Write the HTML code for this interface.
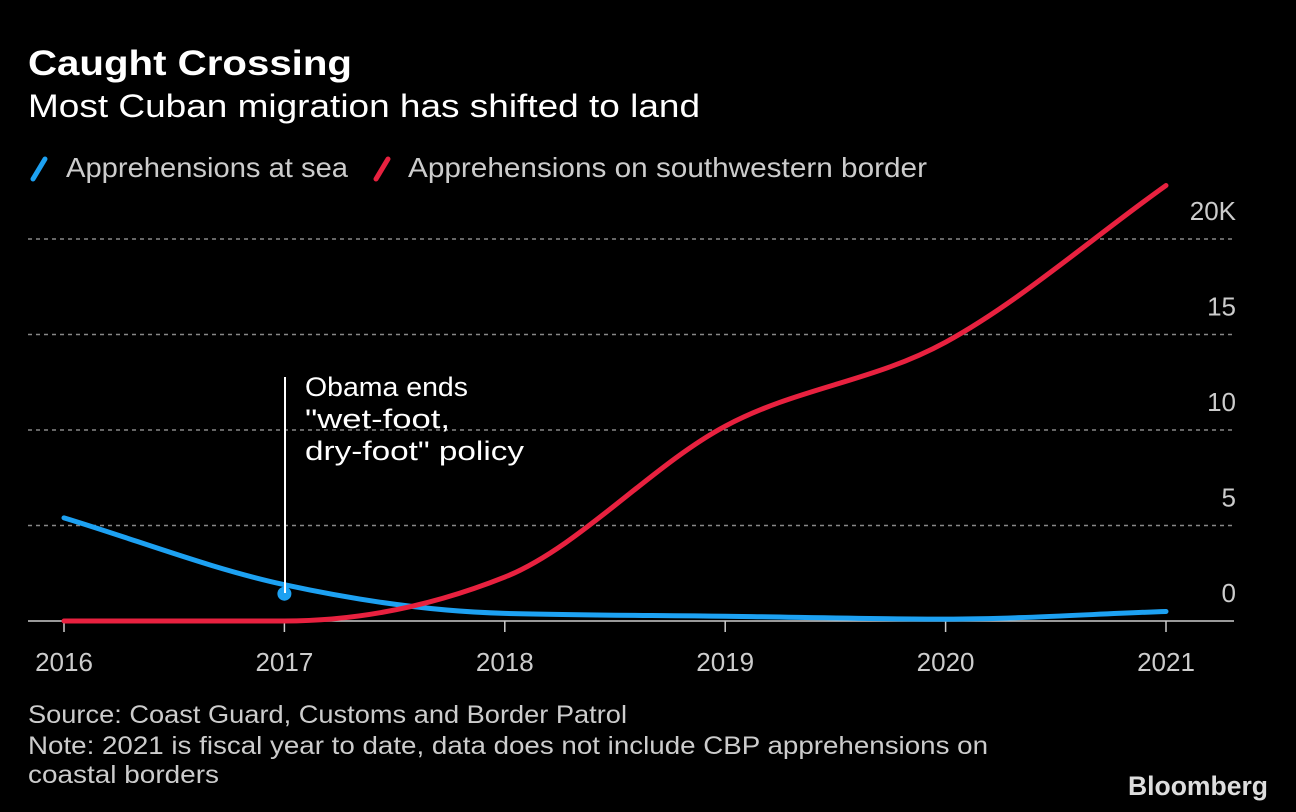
<!DOCTYPE html>
<html><head><meta charset="utf-8"><style>
html,body{margin:0;padding:0;background:#000;}
svg{display:block;}
text{font-family:"Liberation Sans",sans-serif;}
</style></head><body>
<svg id="chart" width="1296" height="812" viewBox="0 0 1296 812" xmlns="http://www.w3.org/2000/svg">
<rect width="1296" height="812" fill="#000"/>
<text x="28" y="75" fill="#fff" font-size="35" font-weight="bold" textLength="324" lengthAdjust="spacingAndGlyphs">Caught Crossing</text>
<text x="28" y="117" fill="#fff" font-size="32" textLength="672" lengthAdjust="spacingAndGlyphs">Most Cuban migration has shifted to land</text>
<g>
<line x1="33" y1="179" x2="45" y2="159" stroke="#1da1f2" stroke-width="5" stroke-linecap="round"/>
<text x="66" y="177" fill="#ccc" font-size="28" textLength="282" lengthAdjust="spacingAndGlyphs">Apprehensions at sea</text>
<line x1="376" y1="179" x2="388" y2="159" stroke="#e8213f" stroke-width="5" stroke-linecap="round"/>
<text x="408" y="177" fill="#ccc" font-size="28" textLength="519" lengthAdjust="spacingAndGlyphs">Apprehensions on southwestern border</text>
</g>
<g id="grid"></g>
<g id="xaxis"></g>
<g id="series"></g>
<g>
<line x1="285" y1="377" x2="285" y2="593" stroke="#fff" stroke-width="2"/>
<text id="ann" fill="#fff" font-size="27" font-family="DejaVu Sans Mono, monospace">
<tspan x="305" y="396" textLength="163" lengthAdjust="spacingAndGlyphs">Obama ends</tspan>
<tspan x="305" y="428" textLength="145" lengthAdjust="spacingAndGlyphs">"wet-foot,</tspan>
<tspan x="305" y="460" textLength="219" lengthAdjust="spacingAndGlyphs">dry-foot" policy</tspan>
</text>
</g>
<text fill="#ccc" font-size="25" font-family="Liberation Sans Narrow, Liberation Sans, sans-serif">
<tspan x="28" y="723" textLength="599" lengthAdjust="spacingAndGlyphs">Source: Coast Guard, Customs and Border Patrol</tspan>
<tspan x="28" y="754" textLength="960" lengthAdjust="spacingAndGlyphs">Note: 2021 is fiscal year to date, data does not include CBP apprehensions on</tspan>
<tspan x="28" y="783" textLength="191" lengthAdjust="spacingAndGlyphs">coastal borders</tspan>
</text>
<text x="1268" y="795" fill="#ddd" font-size="27" font-weight="bold" text-anchor="end" textLength="140" lengthAdjust="spacingAndGlyphs">Bloomberg</text>
</svg>
<script>
const years = [2016, 2017, 2018, 2019, 2020, 2021];
const seaValues = [5.4, 1.9, 0.4, 0.25, 0.1, 0.5];
const borderValues = [0, 0, 2.3, 10.2, 14.6, 22.8];
const yTicks = [0, 5, 10, 15, 20];
const yTickLabels = ["0", "5", "10", "15", "20K"];

const NS = "http://www.w3.org/2000/svg";
const x = v => 64 + (v - 2016) * 220.4;
const y = v => 621 - v * 19.1;

function mk(tag, attrs, parent) {
  const e = document.createElementNS(NS, tag);
  for (const k in attrs) e.setAttribute(k, attrs[k]);
  parent.appendChild(e);
  return e;
}
const grid = document.getElementById('grid');
yTicks.forEach((t, i) => {
  if (t > 0) {
    const l = mk('line', {x1: 28, x2: 1234, y1: y(t), y2: y(t), stroke: '#888', 'stroke-width': 1.5, 'stroke-dasharray': '4,4'}, grid);
    
    
  }
  const tx = mk('text', {x: 1236, y: y(t) - 19, fill: '#ccc', 'font-size': 26, 'text-anchor': 'end'}, grid);
  
  
  tx.textContent = yTickLabels[i];
});
const xa = document.getElementById('xaxis');
const base = mk('line', {x1: 28, x2: 1234, y1: 621, y2: 621, stroke: '#ccc', 'stroke-width': 1.5}, xa);


years.forEach(yr => {
  const tk = mk('line', {x1: x(yr), x2: x(yr), y1: 621, y2: 632, stroke: '#ccc', 'stroke-width': 1.5}, xa);
  
  
  const tx = mk('text', {x: x(yr), y: 671, fill: '#ccc', 'font-size': 26, 'text-anchor': 'middle'}, xa);
  
  
  tx.textContent = yr;
});

function monotonePath(xs, ys) {
  const n = xs.length, d = [], m = new Array(n);
  for (let i = 0; i < n - 1; i++) d.push((ys[i + 1] - ys[i]) / (xs[i + 1] - xs[i]));
  m[0] = d[0]; m[n - 1] = d[n - 2];
  for (let i = 1; i < n - 1; i++) {
    if (d[i - 1] * d[i] <= 0) m[i] = 0;
    else {
      const h0 = xs[i] - xs[i - 1], h1 = xs[i + 1] - xs[i];
      const p = (d[i - 1] * h1 + d[i] * h0) / (h0 + h1);
      m[i] = (Math.sign(d[i - 1]) + Math.sign(d[i])) * Math.min(Math.abs(d[i - 1]), Math.abs(d[i]), 0.5 * Math.abs(p));
    }
  }
  let p = `M${xs[0]},${ys[0]}`;
  for (let i = 0; i < n - 1; i++) {
    const h = (xs[i + 1] - xs[i]) / 3;
    p += ` C${xs[i] + h},${ys[i] + m[i] * h} ${xs[i + 1] - h},${ys[i + 1] - m[i + 1] * h} ${xs[i + 1]},${ys[i + 1]}`;
  }
  return p;
}
const g = document.getElementById('series');
const xs = years.map(x);
const sea = mk('path', {d: monotonePath(xs, seaValues.map(y)), fill: 'none', stroke: '#1da1f2', 'stroke-width': 5, 'stroke-linecap': 'round'}, g);


const bor = mk('path', {d: monotonePath(xs, borderValues.map(y)), fill: 'none', stroke: '#e8213f', 'stroke-width': 5, 'stroke-linecap': 'round'}, g);


const dot = mk('circle', {cx: x(2017), cy: y(seaValues[1]) + 9, r: 7, fill: '#1da1f2'}, g);


</script>
</body></html>
